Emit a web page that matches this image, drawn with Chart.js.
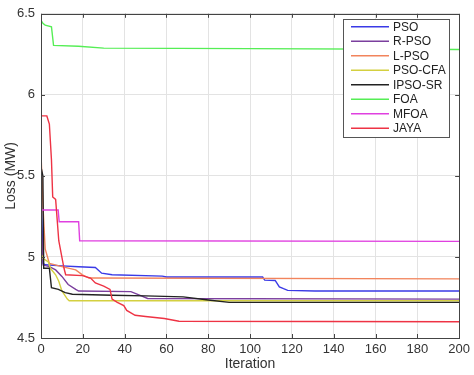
<!DOCTYPE html>
<html>
<head>
<meta charset="utf-8">
<script src="https://cdn.jsdelivr.net/npm/chart.js@4"></script>
<style>
html,body{margin:0;padding:0;background:#fff;}
#wrap{width:474px;height:375px;position:relative;}
</style>
</head>
<body>
<div id="wrap"><canvas id="c" width="474" height="375"></canvas></div>
<script>
const seriesNames = ['PSO','R-PSO','L-PSO','PSO-CFA','IPSO-SR','FOA','MFOA','JAYA'];
const xTicks = [0,20,40,60,80,100,120,140,160,180,200];
const yTicks = [4.5,5,5.5,6,6.5];

const psoIter = [0, 1, 2, 10, 18, 26, 29, 34, 58, 60, 106, 107, 112, 114, 116, 118, 131, 200];
const psoLoss = [5.42, 4.96, 4.952, 4.945, 4.94, 4.935, 4.90, 4.89, 4.882, 4.876, 4.876, 4.857, 4.855, 4.815, 4.804, 4.794, 4.79, 4.79];

const rpsoIter = [0, 1, 4, 7, 10, 13, 16.6, 18, 43, 48, 51, 200];
const rpsoLoss = [5.25, 4.95, 4.94, 4.92, 4.88, 4.83, 4.80, 4.79, 4.786, 4.76, 4.744, 4.74];

const lpsoIter = [0, 1, 2, 4, 10, 16.6, 19.8, 23, 200];
const lpsoLoss = [5.64, 5.3, 5.05, 4.96, 4.94, 4.92, 4.89, 4.87, 4.865];

const cfaIter = [0, 1, 3.5, 4.5, 7, 8.5, 10, 12.6, 13.5, 200];
const cfaLoss = [5.02, 4.99, 4.97, 4.93, 4.89, 4.85, 4.79, 4.74, 4.73, 4.73];

const ipsoIter = [0, 0.9, 1.3, 4, 5, 8.3, 11.6, 15, 34, 50, 68, 80, 90, 200];
const ipsoLoss = [5.555, 5.5, 4.93, 4.93, 4.81, 4.80, 4.78, 4.77, 4.764, 4.76, 4.754, 4.734, 4.72, 4.72];

const foaIter = [0, 1, 2, 5, 6, 18, 30, 100, 200];
const foaLoss = [6.46, 6.44, 6.43, 6.42, 6.305, 6.30, 6.288, 6.285, 6.28];

const mfoaIter = [0, 8.2, 8.7, 18, 18.5, 200];
const mfoaLoss = [5.29, 5.29, 5.217, 5.217, 5.10, 5.096];

const jayaIter = [0, 2.8, 4, 5, 5.6, 7, 8.5, 11, 11.8, 19.8, 23.7, 26, 30, 33, 34, 36.5, 39.6, 41, 45, 50, 59, 66, 200];
const jayaLoss = [5.87, 5.87, 5.82, 5.6, 5.37, 5.355, 5.10, 4.93, 4.89, 4.885, 4.87, 4.84, 4.82, 4.80, 4.74, 4.72, 4.70, 4.67, 4.64, 4.633, 4.62, 4.603, 4.60];

const colors = ['#3a3ae6','#7b3f9e','#f2845c','#d4d040','#222222','#55ee55','#e040e0','#ee3344'];

const iters = [psoIter, rpsoIter, lpsoIter, cfaIter, ipsoIter, foaIter, mfoaIter, jayaIter];
const losses = [psoLoss, rpsoLoss, lpsoLoss, cfaLoss, ipsoLoss, foaLoss, mfoaLoss, jayaLoss];

const FONT = '"Liberation Sans", Arial, Helvetica, sans-serif';

const datasets = seriesNames.map((n, i) => ({
  label: n,
  data: iters[i].map((x, k) => ({x: x, y: losses[i][k]})),
  borderColor: colors[i],
  backgroundColor: colors[i],
  borderWidth: 1.4,
  pointRadius: 0,
  tension: 0,
  fill: false,
  order: seriesNames.length - i
}));

const framePlugin = {
  id: 'frame',
  afterDatasetsDraw(chart) {
    const ctx = chart.ctx, a = chart.chartArea;
    const xs = chart.scales.x, ys = chart.scales.y;
    ctx.save();
    ctx.strokeStyle = '#444';
    ctx.lineWidth = 1;
    ctx.strokeRect(Math.round(a.left) + 0.5, Math.round(a.top) + 0.5, Math.round(a.right - a.left), Math.round(a.bottom - a.top));
    const tl = 4;
    ctx.beginPath();
    xTicks.forEach(v => {
      const px = Math.round(xs.getPixelForValue(v)) + 0.5;
      ctx.moveTo(px, a.bottom); ctx.lineTo(px, a.bottom - tl);
      ctx.moveTo(px, a.top); ctx.lineTo(px, a.top + tl);
    });
    yTicks.forEach(v => {
      const py = Math.round(ys.getPixelForValue(v)) + 0.5;
      ctx.moveTo(a.left, py); ctx.lineTo(a.left + tl, py);
      ctx.moveTo(a.right, py); ctx.lineTo(a.right - tl, py);
    });
    ctx.stroke();
    ctx.restore();
  },
  afterDraw(chart) {
    const ctx = chart.ctx;
    const bx = 343, by = 19, bw = 106, bh = 118;
    ctx.save();
    ctx.fillStyle = '#fff';
    ctx.fillRect(bx, by, bw, bh);
    ctx.strokeStyle = '#555';
    ctx.lineWidth = 1;
    ctx.strokeRect(bx + 0.5, by + 0.5, bw, bh);
    ctx.font = '12px ' + FONT;
    ctx.textBaseline = 'middle';
    chart.data.datasets.forEach((d, i) => {
      const y = 26.7 + i * 14.5;
      ctx.strokeStyle = d.borderColor;
      ctx.lineWidth = 1.4;
      ctx.beginPath();
      ctx.moveTo(351, y); ctx.lineTo(389, y);
      ctx.stroke();
      ctx.fillStyle = '#222';
      ctx.fillText(d.label, 393, y + 0.5);
    });
    ctx.restore();
  }
};

new Chart(document.getElementById('c'), {
  type: 'line',
  data: { datasets: datasets },
  options: {
    responsive: false,
    animation: false,
    layout: { padding: { top: 7, right: 12, left: 0, bottom: 0 } },
    plugins: { legend: { display: false }, tooltip: { enabled: false } },
    scales: {
      x: {
        type: 'linear', min: 0, max: 200,
        afterFit(s) { s.height = 37; },
        afterBuildTicks(s) { s.ticks = xTicks.map(v => ({value: v})); },
        grid: { color: '#e3e3e3', drawTicks: false, lineWidth: 1 },
        border: { display: false },
        ticks: { font: { size: 13, family: FONT }, color: '#333', padding: 4, maxRotation: 0, autoSkip: false },
        title: { display: true, text: 'Iteration', font: { size: 14, family: FONT }, color: '#333', padding: { top: 0, bottom: 2 } }
      },
      y: {
        type: 'linear', min: 4.5, max: 6.5,
        afterFit(s) { s.width = 41; },
        afterBuildTicks(s) { s.ticks = yTicks.map(v => ({value: v})); },
        grid: { color: '#e3e3e3', drawTicks: false, lineWidth: 1 },
        border: { display: false },
        ticks: { font: { size: 13, family: FONT }, color: '#333', padding: 6, autoSkip: false,
          callback: v => String(v) },
        title: { display: true, text: 'Loss (MW)', font: { size: 14, family: FONT }, color: '#333', padding: { top: 3, bottom: 0 } }
      }
    }
  },
  plugins: [framePlugin]
});
</script>
</body>
</html>
